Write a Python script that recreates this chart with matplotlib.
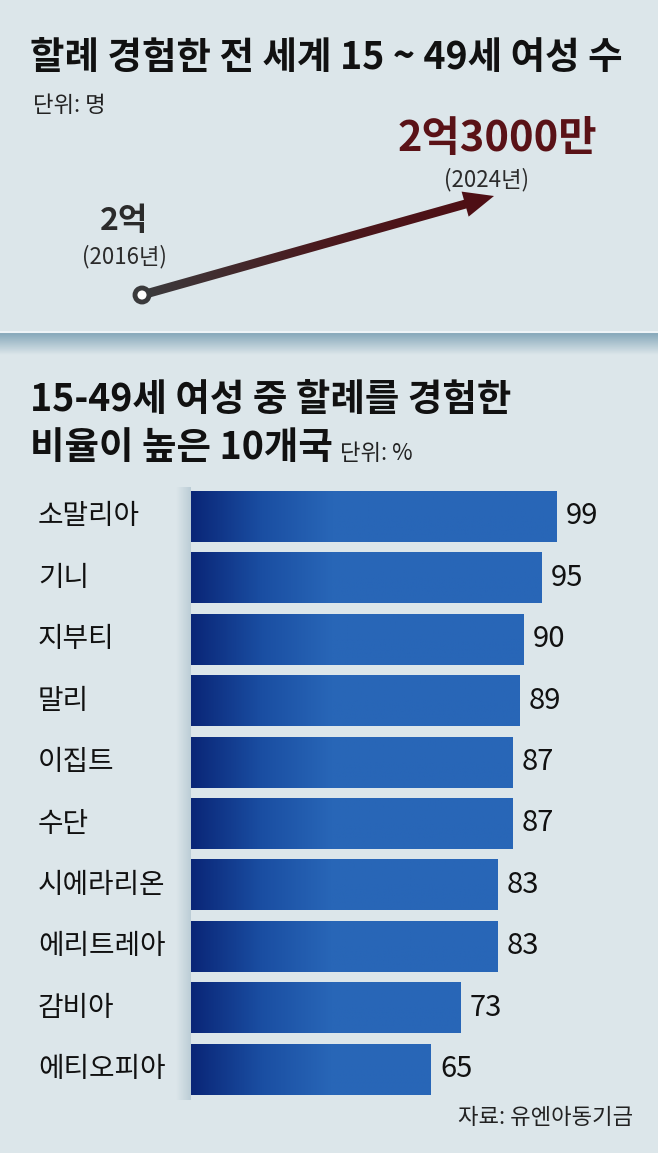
import numpy as np
import matplotlib
matplotlib.use("Agg")
import matplotlib.pyplot as plt
from matplotlib.colors import LinearSegmentedColormap
from matplotlib.patches import FancyArrow, Circle

plt.rcParams["font.family"] = ["Noto Sans CJK KR", "DejaVu Sans"]

# 데이터
years = ["2016년", "2024년"]
totals = ["2억", "2억3000만"]
countries = ["소말리아", "기니", "지부티", "말리", "이집트", "수단",
             "시에라리온", "에리트레아", "감비아", "에티오피아"]
rates = [99, 95, 90, 89, 87, 87, 83, 83, 73, 65]

BG = "#dce6ea"
W, H = 658, 1153

fig = plt.figure(figsize=(W / 100, H / 100), dpi=100)
fig.patch.set_facecolor(BG)

# 전체 캔버스 (픽셀 좌표)
ax = fig.add_axes([0, 0, 1, 1])
ax.set_xlim(0, W)
ax.set_ylim(H, 0)
ax.axis("off")

# 상단 제목
ax.text(30, 57, "할례 경험한 전 세계 15 ~ 49세 여성 수", fontsize=27,
        fontweight="bold", color="#111111", va="center", ha="left")
ax.text(33, 105, "단위: 명", fontsize=16, color="#222222", va="center")

# 화살표 (그라데이션)
x0, y0 = 142, 295
x1, y1 = 494, 196
arr = FancyArrow(x0, y0, x1 - x0, y1 - y0, width=9, head_width=26,
                 head_length=30, length_includes_head=True,
                 facecolor="none", edgecolor="none")
ax.add_patch(arr)
gx, gy = np.meshgrid(np.linspace(120, 510, 200), np.linspace(170, 320, 100))
d = np.array([x1 - x0, y1 - y0])
t = ((gx - x0) * d[0] + (gy - y0) * d[1]) / (d @ d)
arrow_cmap = LinearSegmentedColormap.from_list("arr", ["#3b3b3d", "#4a1a1e", "#4f0e14"])
im = ax.imshow(np.clip(t, 0, 1), extent=(120, 510, 320, 170), cmap=arrow_cmap,
               vmin=0, vmax=1, aspect="auto", zorder=2)
im.set_clip_path(arr)
ax.add_patch(Circle((x0, y0), 7, facecolor="white", edgecolor="#3a3a3c",
                    linewidth=3.5, zorder=3))

ax.text(124, 221, totals[0], fontsize=23, fontweight="bold", color="#2b2b2b",
        ha="center", va="center")
ax.text(124, 257, "(" + years[0] + ")", fontsize=16, color="#2b2b2b",
        ha="center", va="center")
ax.text(497, 139, totals[1], fontsize=30, fontweight="heavy", color="#5a1217",
        ha="center", va="center")
ax.text(487, 180, "(" + years[1] + ")", fontsize=16, color="#2b2b2b",
        ha="center", va="center")

# 구분선 + 그림자
ax.plot([0, W], [331.5, 331.5], color="#eef4f7", linewidth=1.5)
shade = np.linspace(0, 1, 50).reshape(-1, 1)
shade_cmap = LinearSegmentedColormap.from_list("sh", ["#86a8ba", BG])
ax.imshow(shade, extent=(0, W, 355, 333), cmap=shade_cmap, aspect="auto", zorder=1)

# 하단 제목
ax.text(30, 399, "15-49세 여성 중 할례를 경험한", fontsize=27, fontweight="bold",
        color="#111111", va="center")
ax.text(30, 447, "비율이 높은 10개국", fontsize=27, fontweight="bold",
        color="#111111", va="center")
ax.text(340, 453, "단위: %", fontsize=16, color="#222222", va="center")

# 막대 왼쪽 그림자 띠
strip = np.linspace(0, 1, 30).reshape(1, -1)
strip_cmap = LinearSegmentedColormap.from_list("st", [BG, "#bccdd6"])
ax.imshow(strip, extent=(176, 191, 1100, 487), cmap=strip_cmap, aspect="auto", zorder=1)

# 막대 그래프
left_px, k = 191, 3.69
pitch, first_c = 61.4, 516.5
top_px = first_c - pitch
bot_px = first_c + pitch * 10
bax = fig.add_axes([left_px / W, 1 - bot_px / H, (W - left_px) / W, (bot_px - top_px) / H])
bax.patch.set_alpha(0)

bar_cmap = LinearSegmentedColormap.from_list("bar", ["#0a2677", "#1a4ea2", "#2866b7"])
bh = 0.83
ypos = np.arange(len(countries))
bars = bax.barh(ypos, rates, height=bh, color="none")
for i, (b, v) in enumerate(zip(bars, rates)):
    g = np.linspace(0, v, 200).reshape(1, -1)
    bimg = bax.imshow(g, extent=(0, v, i + bh / 2, i - bh / 2), cmap=bar_cmap,
                      vmin=0, vmax=38, aspect="auto", zorder=2)
    bimg.set_clip_path(b)
    bax.text(v + 2.5, i, str(v), fontsize=21, color="#111111", va="center", ha="left")
bax.set_xlim(0, (W - left_px) / k)
bax.set_ylim(10, -1)
bax.axis("off")

for i, c in enumerate(countries):
    ax.text(38, first_c + pitch * i, c, fontsize=20, color="#111111", va="center", ha="left")

ax.text(633, 1117, "자료: 유엔아동기금", fontsize=16, color="#222222",
        ha="right", va="center")

fig.savefig("out.png", dpi=100, facecolor=BG)
